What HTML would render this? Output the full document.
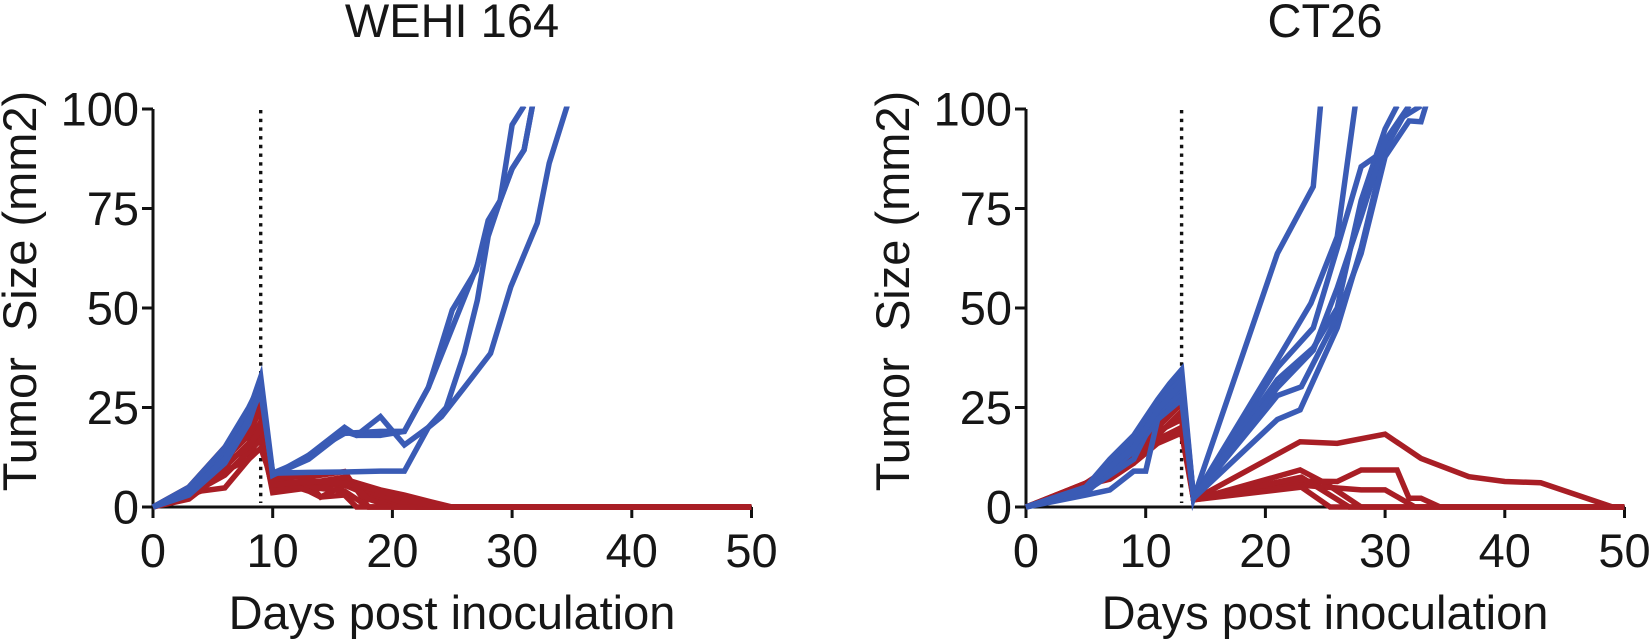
<!DOCTYPE html>
<html>
<head>
<meta charset="utf-8">
<style>
  html, body { margin: 0; padding: 0; background: #ffffff; }
  body { width: 1652px; height: 644px; overflow: hidden; }
  svg { display: block; }
  text { font-family: "Liberation Sans", Arial, sans-serif; font-size: 47px; fill: #161616; }
  .ax { stroke: #111; stroke-width: 3; fill: none; stroke-linecap: butt; }
  .dot { stroke: #111; stroke-width: 3.4; stroke-dasharray: 3.4 5.3; fill: none; }
  .r polyline { fill: none; stroke: #A81E25; stroke-width: 5.5; stroke-linejoin: miter; stroke-miterlimit: 6; vector-effect: non-scaling-stroke; }
  .b polyline { fill: none; stroke: #3A5BB5; stroke-width: 5.5; stroke-linejoin: miter; stroke-miterlimit: 6; vector-effect: non-scaling-stroke; }
</style>
</head>
<body>
<svg width="1652" height="644" viewBox="0 0 1652 644" xmlns="http://www.w3.org/2000/svg">
  <defs>
    <clipPath id="cl" clipPathUnits="userSpaceOnUse">
      <rect x="130" y="106.5" width="640" height="420"/>
    </clipPath>
    <clipPath id="cr" clipPathUnits="userSpaceOnUse">
      <rect x="1003" y="106.5" width="640" height="420"/>
    </clipPath>
  </defs>

  <!-- ================= LEFT PANEL ================= -->
  <text x="452" y="37" text-anchor="middle">WEHI 164</text>
  <text transform="translate(36,291) rotate(-90)" text-anchor="middle" xml:space="preserve">Tumor  Size (mm2)</text>

  <path class="ax" d="M153,109 V518 M142,507 H752"/>
  <path class="ax" d="M142,109 H153 M142,208.5 H153 M142,308 H153 M142,407.5 H153"/>
  <path class="ax" d="M272.7,507 V518 M392.4,507 V518 M512.1,507 V518 M631.8,507 V518 M751.5,507 V518"/>

  <text x="139" y="125.5" text-anchor="end">100</text>
  <text x="139" y="225" text-anchor="end">75</text>
  <text x="139" y="324.5" text-anchor="end">50</text>
  <text x="139" y="424" text-anchor="end">25</text>
  <text x="139" y="523.5" text-anchor="end">0</text>

  <text x="153" y="567" text-anchor="middle">0</text>
  <text x="272.7" y="567" text-anchor="middle">10</text>
  <text x="392.4" y="567" text-anchor="middle">20</text>
  <text x="512.1" y="567" text-anchor="middle">30</text>
  <text x="631.8" y="567" text-anchor="middle">40</text>
  <text x="751.5" y="567" text-anchor="middle">50</text>

  <text x="452" y="629" text-anchor="middle">Days post inoculation</text>

  <line class="dot" x1="260.7" y1="110" x2="260.7" y2="503"/>

  <g clip-path="url(#cl)">
    <g transform="translate(153,507) scale(11.97,-3.98)">
      <g class="r">
        <polyline points="0,0 3,4 6,13 8,20 9,27.3 10,7.6 13,7.5 16,8.9 18,0 50,0"/>
        <polyline points="0,0 3,5 6,15 8,20 9,23.6 10,6 13,6 14,2.5 16,5.5 19,1.8 21.5,0 50,0"/>
        <polyline points="0,0 3,3 6,10 8,16 9,21.4 10,5 13,5.5 16,7 19,4.3 21,3 23.2,1.3 25,0 50,0"/>
        <polyline points="0,0 4,4 6,4.8 8,12 9,18.9 10,3.6 13,4.8 16,6 19,3 21,1 22,0 50,0"/>
        <polyline points="0,0 3,3 6,8 8,14 9,16.8 10,4.5 13,5 16,4 18,0 50,0"/>
        <polyline points="0,0 3,2 6,9 8,12 9,14.8 10,6.5 13,6 16,7.5 18,2 20,0 50,0"/>
        <polyline points="0,0 3,4 6,12 8,18 9,25 10,7 13,4 14,2.5 16,3 17,0 50,0"/>
        <polyline points="0,0 3,3 6,11 8,15 9,20 10,5.5 13,6.5 16,6 19,4 21,2 23,0.5 25,0 50,0"/>
      </g>
      <g class="b">
        <polyline points="0,0 3,4 6,14 8,24 9,32.7 10,8.5 12,11 14,15 16,18.5 19,19 21,19 23,30 25,49.5 27,59.5 28,72 29,77 30,96 31,100.8"/>
        <polyline points="0,0 3,5 6,15 8,25 9,31 10,8 13,13 16,20 17,18 19,18 21,19 23,30 25,45 27,60 29,77 30,85 31,89.7 31.7,100.8"/>
        <polyline points="0,0 3,3 6,11 8,21 9,30 10,8 13,12 16,19 17,18 19,22.7 21,15.6 23,20 24.1,22.7 26,30 28.2,38.6 29.9,55.4 32.1,71.3 33.1,86.4 34.6,100.8"/>
        <polyline points="0,0 3,4 6,12 8,22 9,29 10,8.5 13,8.7 16,8.8 19,9 21,9 23,20 24.5,25 26,38.6 27.1,52 28,68 29,77 30,85 31,89.7 31.7,100.8"/>
      </g>
    </g>
  </g>

  <!-- ================= RIGHT PANEL ================= -->
  <text x="1325" y="37" text-anchor="middle">CT26</text>
  <text transform="translate(909,291) rotate(-90)" text-anchor="middle" xml:space="preserve">Tumor  Size (mm2)</text>

  <path class="ax" d="M1026,109 V518 M1015,507 H1625"/>
  <path class="ax" d="M1015,109 H1026 M1015,208.5 H1026 M1015,308 H1026 M1015,407.5 H1026"/>
  <path class="ax" d="M1145.7,507 V518 M1265.4,507 V518 M1385.1,507 V518 M1504.8,507 V518 M1624.5,507 V518"/>

  <text x="1012" y="125.5" text-anchor="end">100</text>
  <text x="1012" y="225" text-anchor="end">75</text>
  <text x="1012" y="324.5" text-anchor="end">50</text>
  <text x="1012" y="424" text-anchor="end">25</text>
  <text x="1012" y="523.5" text-anchor="end">0</text>

  <text x="1026" y="567" text-anchor="middle">0</text>
  <text x="1145.7" y="567" text-anchor="middle">10</text>
  <text x="1265.4" y="567" text-anchor="middle">20</text>
  <text x="1385.1" y="567" text-anchor="middle">30</text>
  <text x="1504.8" y="567" text-anchor="middle">40</text>
  <text x="1624.5" y="567" text-anchor="middle">50</text>

  <text x="1325" y="629" text-anchor="middle">Days post inoculation</text>

  <line class="dot" x1="1181.6" y1="110" x2="1181.6" y2="503"/>

  <g clip-path="url(#cr)">
    <g transform="translate(1026,507) scale(11.97,-3.98)">
      <g class="r">
        <polyline points="0,0 5,6 7,8 9,13 11,20 13,29.4 14,1.8 22.9,16.4 26,16 30,18.3 33,12.2 37,7.6 40,6.4 43,6.1 49,0 50,0"/>
        <polyline points="0,0 5,5.5 7,7 9,11 11,16 13,18.6 14,1.8 22.9,9.3 25,6 28,0 50,0"/>
        <polyline points="0,0 5,6 7,9 9,12 11,18 13,24 14,1.8 22.9,6.5 26,6.4 28,9.3 31,9.3 32,2.2 33,2.2 34.6,0 50,0"/>
        <polyline points="0,0 5,5 7,8 9,11 11,19 13,22 14,1.8 22.9,5.5 28,4.3 30,4.3 32.5,0 50,0"/>
        <polyline points="0,0 5,6 7,10 9,14 11,20 13,26 14,1.8 23,5 25.4,0 50,0"/>
        <polyline points="0,0 5,5 7,8 9,12 11,17 13,20 14,1.8 23,7.5 27,0 50,0"/>
      </g>
      <g class="b">
        <polyline points="0,0 5,5 7,12 9,18 11,27 12,31 13,34.5 14,2.2 21,63.7 24,80.5 24.6,100.8"/>
        <polyline points="0,0 5,4 7,10 9,16 11,25 12,29 13,33 14,2.2 21,37 23.8,51.2 26,67.9 27.5,100.8"/>
        <polyline points="0,0 5,3 7,4.3 9,9 10,9 11,22 13,30 14,2.2 21,35 24,45 26,65 28,85.5 30,89.7 31,96 32,100.8"/>
        <polyline points="0,0 5,4 7,8 9,12 11,24 13,28 14,2.2 21,32 24,40 26,50 28,77 30,95 31,100.8"/>
        <polyline points="0,0 5,5 7,11 9,17 11,26 13,32 14,2.2 21,28 23,30.2 26,47.8 28,63.7 30,88 32,97 33,96.8 33.4,100.8"/>
        <polyline points="0,0 5,3.5 7,9 9,14 11,22 13,27 14,2.2 21,22 22.9,24.4 26,45 28,65 30,90 31.5,98 33,100.8"/>
        <polyline points="0,0 5,4.5 7,10 9,15 11,24.4 13,31 14,2.2 21,30 24,39.4 26,55 28,73 30,92 32,100.8"/>
      </g>
    </g>
  </g>
</svg>
</body>
</html>
